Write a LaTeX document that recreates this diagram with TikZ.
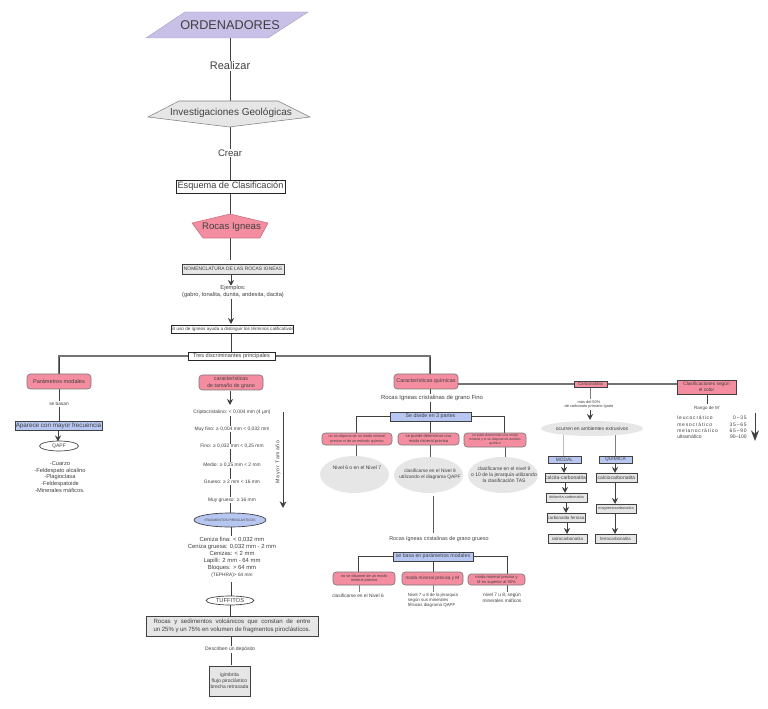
\documentclass[tikz,border=0pt]{standalone}
\usepackage{fontspec}
\setmainfont{Liberation Sans}
\newfontfamily\spc[LetterSpace=16]{Liberation Sans}
\usetikzlibrary{arrows.meta,backgrounds,calc,shapes.geometric}
\definecolor{ink}{HTML}{404040}
\definecolor{lila}{HTML}{C9C0E8}
\definecolor{rosa}{HTML}{F58DA0}
\definecolor{azul}{HTML}{B7C7F2}
\definecolor{gris}{HTML}{E6E6E6}
\newcommand\fs[1]{\pgfmathsetmacro\fsz{#1*.75}\pgfmathsetmacro\fsb{#1*.9}\fontsize{\fsz}{\fsb}\selectfont}
\newcommand\bx[7]{\node[#6,minimum width={(#4-#2)*.75pt},minimum height={(#5-#3)*.75pt},inner sep=0pt,align=center,text=ink] (#1) at ({(#2+#4)/2},{(#3+#5)/2}) {#7};}
\newcommand\tx[5]{\node[fill=white,inner sep=.6pt,align=center,text=ink,font=\fs{#4}] (#1) at (#2,#3) {#5};}
\newcommand\onell[5]{\node[inner sep=0pt,align=center,text=ink,font=\fs{#4}] (#1) at (#2,#3) {#5};}
\tikzset{
  x=.75pt,y=-.75pt,
  wbox/.style={draw=black!85,fill=white,line width=.55pt},
  gbox/.style={draw=ink,fill=gris,line width=.6pt},
  bbox/.style={draw=ink,fill=azul,line width=.7pt},
  pbox/.style={draw=ink!70,fill=rosa,line width=.5pt,rounded corners=2.5pt},
  pflat/.style={draw=ink,fill=rosa,line width=.6pt},
  gell/.style={ellipse,fill=gris},
  ln/.style={draw=ink,line width=.75pt},
  lnhair/.style={draw=gray,line width=.5pt},
  lngrey/.style={draw=gray!90!black,line width=.95pt},
  arr/.style={ln,-{Stealth[length=4.5pt,width=4.5pt]}},
}
\begin{document}
\begin{tikzpicture}
\useasboundingbox (0,0) rectangle (768,709);
% top polygons
\filldraw[fill=lila,draw=lila!80!black,line width=.3pt] (146,38)--(185,12)--(308,12)--(268,38)--cycle;
\bx{ord}{169}{12}{291}{38}{font=\fs{12.7}}{ORDENADORES}
\tx{realizar}{230}{66}{11}{Realizar}
\filldraw[fill=gris,draw=gray,line width=.4pt] (148,117)--(179,101)--(278,101)--(310,117)--(229,127)--cycle;
\bx{inv}{180}{101}{282}{125}{font=\fs{10}}{Investigaciones Geológicas}
\tx{crear}{230}{153}{9.6}{Crear}
\bx{esq}{176}{180}{285}{193}{wbox,font=\fs{9.2}}{Esquema de Clasificación}
\filldraw[fill=rosa,draw=rosa!80!black,line width=.4pt] (192,223)--(230,214)--(268,223)--(260,238)--(203,238)--cycle;
\bx{roc}{203}{216}{260}{238}{font=\fs{9.6}}{Rocas Igneas}
\bx{nom}{182}{264}{284}{274}{gbox,font=\fs{4.9}}{NOMENCLATURA DE LAS ROCAS IGNEAS}
\tx{eje}{233}{291.5}{5.7}{Ejemplos:\\(gabro, tonalita, dunita, andesita, dacita)}
\bx{uso}{174}{325}{291}{333}{wbox,font=\fs{4.6}}{El uso de ígneos ayuda a distinguir los términos calificativos}
\bx{tres}{188}{352}{275}{360}{wbox,font=\fs{5.6}}{Tres discriminantes principales}
% column 1
\bx{par}{27}{374}{91}{389}{pbox,font=\fs{5.6}}{Parámetros modales}
\tx{basan}{59}{404}{4.8}{se basan}
\bx{apa}{15}{421}{102}{430}{bbox,font=\fs{6.3}}{Aparece con mayor frecuencia}
\node[ellipse,draw=ink,fill=white,line width=.5pt,minimum width=29.25pt,minimum height=7.5pt,inner sep=0pt,font=\fs{5},text=ink] (qapf) at (59,446) {QAPF};
\tx{minq}{60}{477}{5.7}{-Cuarzo\\-Feldespato alcalino\\-Plagioclasa\\-Feldespatoide\\-Minerales máficos.}
% column 2
\bx{tam}{199}{375}{263}{390}{pbox,font=\fs{5.3}}{características\\de tamaño de grano}
\tx{t1}{232}{412}{4.9}{Criptocristalino: < 0,004 mm (4 µm)}
\tx{t2}{232}{429}{4.9}{Muy fino: ≥ 0,004 mm < 0,032 mm}
\tx{t3}{232}{446.5}{4.9}{Fino: ≥ 0,032 mm < 0,25 mm}
\tx{t4}{232}{465}{4.9}{Medio: ≥ 0,25 mm < 2 mm}
\tx{t5}{232}{482}{4.9}{Grueso: ≥ 2 mm < 16 mm}
\tx{t6}{232}{500}{4.9}{Muy grueso: ≥ 16 mm}
\node[ellipse,draw=ink,fill=azul,line width=.5pt,minimum width=45.75pt,minimum height=10.5pt,inner sep=0pt,font=\fs{3.3},text=ink] (frag) at (230,520) {FRAGMENTOS PIROCLÁSTICOS};
\coordinate (mta) at (283,412);
\coordinate (mtb) at (283,508);
\node[rotate=90,text=ink,font={\spc\fs{5.2}},inner sep=0pt] (mayor) at (278,462) {Mayor Tamaño};
\tx{cen}{232}{557.5}{5.9}{Ceniza fina: < 0,032 mm\\Ceniza gruesa: 0,032 mm - 2 mm\\Cenizas: < 2 mm\\Lapilli: 2 mm - 64 mm\\Bloques: > 64 mm\\{\fs{4.8}(TEPHRA)> 64 mm}}
\node[ellipse,draw=ink,fill=white,line width=.5pt,minimum width=36pt,minimum height=6.75pt,inner sep=0pt,font=\fs{5.8},text=ink] (tuf) at (230,600.5) {TUFFITOS};
\node[draw=ink,fill=gris,line width=.6pt,minimum width=129pt,minimum height=15pt,inner sep=0pt,align=center,text=ink,font=\fs{6.1}] (vol) at (232,626) {\makebox[117.75pt][s]{Rocas y sedimentos volcánicos que constan de entre}\\\makebox[117.75pt][s]{un 25\% y un 75\% en volumen de fragmentos piroclásticos.}};
\tx{desc}{230}{649.5}{5}{Describen un depósito}
\bx{ign}{209}{666}{250}{696}{gbox,font=\fs{5}}{igimbrita\\flujo piroclástico\\brecha retrasada}
% column 3
\bx{qui}{394}{374}{458}{389}{pbox,font=\fs{5.4}}{Características químicas}
\coordinate (qtop) at (430,374);
\tx{fino}{432}{398}{5.9}{Rocas Igneas cristalinas de grano Fino}
\bx{div}{390}{412}{471}{421}{bbox,font=\fs{5.3}}{Se divide en 3 partes}
\bx{f1}{322}{433}{392}{445}{pbox,font=\fs{3.7}}{no se dispone de un modo mineral\\preciso ni de un método químico}
\bx{f2}{398}{433}{459}{445}{pbox,font=\fs{4.1}}{se puede determinar una\\moda mineral precisa}
\bx{f3}{464}{433}{526}{447}{pbox,font=\fs{3.4}}{no pude determinar una moda\\mineral y si se dispone de análisis\\químico}
\bx{e1}{320}{456}{389}{493}{gell}{}
\bx{e2}{394}{457}{463}{493}{gell}{}
\bx{e3}{468}{457}{538}{493}{gell}{}
\onell{e1t}{357}{468}{5}{Nivel 6 o en el Nivel 7}
\onell{e2t}{430}{474}{4.8}{clasificarse en el Nivel 8\\utilizando el diagrama QAPF}
\onell{e3t}{504}{475}{5}{clasificarse en el nivel 9\\o 10 de la jerarquía utilizando\\la clasificación TAS}
\coordinate (gs) at (433,496);
\tx{grueso}{439}{539}{5.4}{Rocas ígneas cristalinas de grano grueso}
\bx{bas}{393}{552}{473}{561}{bbox,font=\fs{5.2}}{se basa en parámetros modales}
\bx{g1}{333}{572}{395}{585}{pbox,font=\fs{3.9}}{no se dispone de un modo\\mineral preciso}
\bx{g2}{402}{572}{463}{585}{pbox,font=\fs{4.7}}{moda mineral precisa y M}
\bx{g3}{468}{574}{525}{585}{pbox,font=\fs{4.1}}{moda mineral precisa y\\M es superior al 90\%}
\tx{c1}{358}{596}{4.8}{clasificarse en el Nivel 6}
\node[fill=white,inner sep=.6pt,align=left,text=ink,font=\fs{4.4}] (c2) at (433,600.5) {Nivel 7 u 8 de la jerarquía\\según sus minerales\\félsicos diagrama QAPF};
\tx{c3}{502}{597.5}{4.8}{nivel 7 u 8, según\\minerales máficos}
% column 4
\bx{car}{574}{381}{607}{387}{pflat,font=\fs{4.4}}{Carbonatitas}
\tx{mas}{589}{404.5}{3.9}{más del 50\%\\de carbonato primario ígneo}
\bx{ocu}{550}{421}{634}{436}{gell,font=\fs{5}}{ocurren en ambientes extrusivos}
\bx{mod}{548}{456}{581}{463}{bbox,font=\fs{4.8}}{MODAL}
\bx{qm}{599}{456}{632}{463}{bbox,font=\fs{4.8}}{QUIMICA}
\bx{a1}{545}{473}{586}{482}{gbox,font=\fs{5}}{calcita-carbonatita}
\bx{a2}{546}{493}{587}{502}{gbox,font=\fs{3.8}}{dolomita-carbonatita}
\bx{a3}{547}{513}{585}{522}{gbox,font=\fs{4.4}}{carbonatita ferrosa}
\bx{a4}{548}{534}{587}{543}{gbox,font=\fs{4.4}}{sidrocarbonatita}
\bx{b1}{596}{473}{637}{482}{gbox,font=\fs{5}}{calciocarbonatita}
\bx{b2}{596}{504}{636}{513}{gbox,font=\fs{3.8}}{magnesiocarbonatita}
\bx{b3}{595}{534}{636}{543}{gbox,font=\fs{4.4}}{ferrocarbonatita}
% column 5
\bx{cla}{677}{380}{736}{394}{pflat,font=\fs{4.8}}{Clasificaciones según\\el color}
\tx{rango}{707}{408}{4.5}{Rango de M'}
\node[anchor=west,inner sep=0pt,text=ink,font={\spc\fs{5}}] (r1) at (677,418) {leucocrático};
\node[anchor=west,inner sep=0pt,text=ink,font={\spc\fs{5}}] (r2) at (677,424.5) {mesocrático};
\node[anchor=west,inner sep=0pt,text=ink,font={\spc\fs{5}}] (r3) at (677,431) {melanocrático};
\node[anchor=west,inner sep=0pt,text=ink,font=\fs{5}] (r4) at (677,437) {ultramáfico};
\node[anchor=east,inner sep=0pt,text=ink,font={\spc\fs{5}}] (n1) at (747,418) {0–35};
\node[anchor=east,inner sep=0pt,text=ink,font={\spc\fs{5}}] (n2) at (747,424.5) {35–65};
\node[anchor=east,inner sep=0pt,text=ink,font={\spc\fs{5}}] (n3) at (747,431) {65–90};
\node[anchor=east,inner sep=0pt,text=ink,font=\fs{5}] (n4) at (747,437) {90–100};
\coordinate (ma) at (755,413);
\coordinate (mb) at (755,441);
% connectors
\begin{scope}[on background layer]
\draw[ln] (realizar.north |- ord.south) -- (realizar.north |- inv.north);
\draw[ln] (crear.north |- 0,126) -- (crear.north |- esq.north);
\draw[ln,line width=.95pt] (esq.south) -- (esq.south |- roc.north);
\draw[ln] (230,238) -- (230,260);
\draw[arr] (231,274) -- (231,286);
\draw[arr] (231,299) -- (231,324);
\draw[ln] (tres.north |- uso.south) -- (tres.north);
\draw[lngrey] (tres.west) -| (par.north);
\draw[lngrey] (tres.east) -| (qtop);
\draw[ln] (par.north |- 0,357) -- (par.north);
\draw[ln] (qtop |- 0,357) -- (qtop);
\draw[ln] (par.south) -- (par.south |- apa.north);
\draw[arr] (58,430) -- (58,441.5);
\draw[arr] (230,391) -- (230,405);
\draw[ln] (230,416) -- (230,514);
\draw[ink,line width=.6pt,-{Stealth[length=5pt,width=5pt]}] (mta) -- (mtb);
\draw[ln] (231,527) -- (231,538);
\draw[ln] (231,582) -- (231,597);
\draw[ln] (tuf.south) -- (tuf.south |- vol.north);
\draw[ln] (231,636) -- (231,665);
% chem branches
\draw[lngrey] (qui.east |- 0,384) -- (car.west |- 0,384);
\draw[lngrey] (car.east |- 0,384) -- (cla.west |- 0,384);
\draw[ln] (430,389) -- (430,412);
\draw[ln] (div.west) -| (356,433);
\draw[ln] (div.east) -| (504,433);
\draw[ln] (430,421) -- (430,433);
\draw[ln,gray!70!black] (356,445) -- (356,456);
\draw[ln,gray!70!black] (430,445) -- (430,457);
\draw[ln,gray!70!black] (505,447) -- (505,457);
\draw[ln,gray!70!black] (gs) -- (433,533);
\draw[ln] (bas.west) -| (358,572);
\draw[ln] (bas.east) -| (507,574);
\draw[ln] (433,561) -- (433,572);
\draw[lnhair] (359,585) -- (359,592);
\draw[lnhair] (433,585) -- (433,592);
\draw[ln,gray!70!black] (507,585) -- (507,592);
% carbonatites
\draw[lnhair] (590,387) -- (590,399);
\draw[arr] (590,410) -- (590,420);
\draw[lnhair,gray!50] (563,435) -- (563,456);
\draw[lnhair] (615,435) -- (615,456);
\draw[arr] (564,463) -- (564,473);
\draw[arr] (565,482) -- (565,493);
\draw[arr] (566,502) -- (566,513);
\draw[arr] (567,522) -- (567,534);
\draw[arr] (615,463) -- (615,473);
\draw[arr] (615,482) -- (615,504);
\draw[arr] (615,513) -- (615,534);
% colour
\draw[lnhair,draw=ink] (707,394) -- (707,404);
\draw[ink,line width=.7pt,-{Stealth[length=8pt,width=6pt]}] (ma) -- (mb);
\end{scope}
\end{tikzpicture}
\end{document}
